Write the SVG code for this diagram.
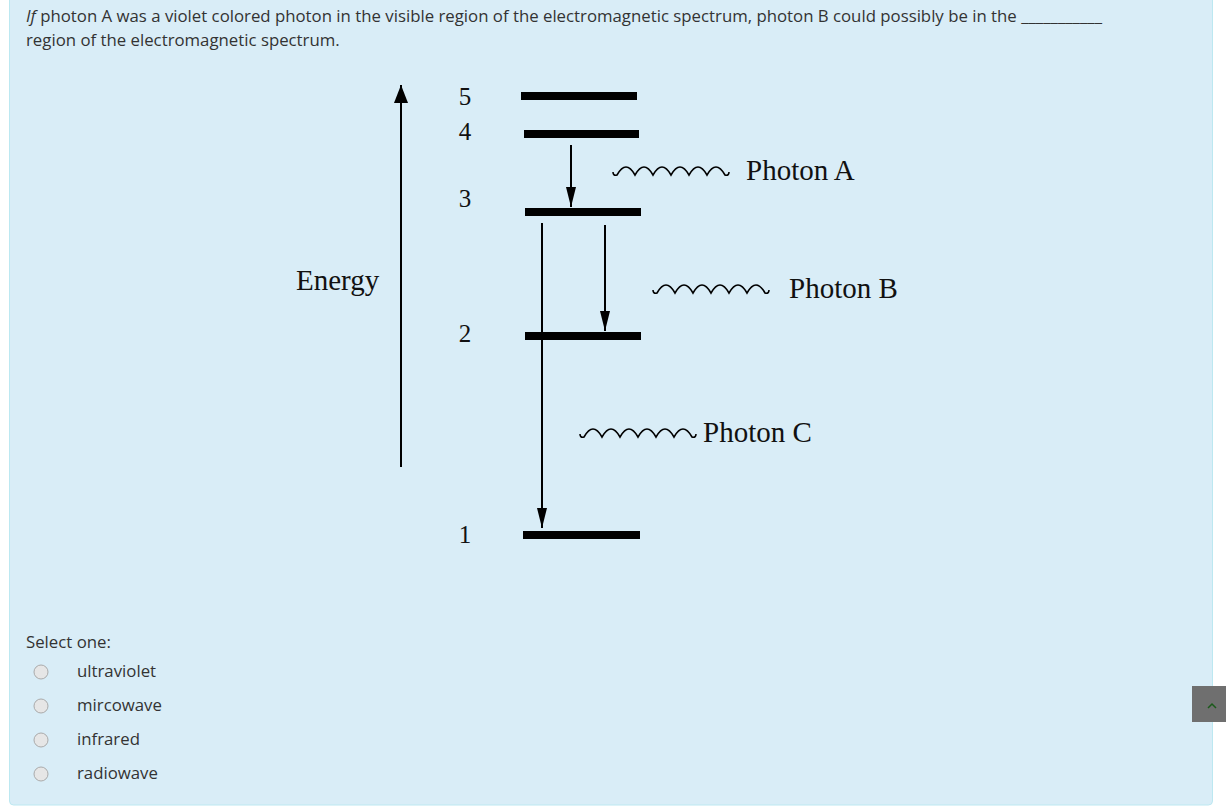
<svg xmlns="http://www.w3.org/2000/svg" width="1226" height="811" viewBox="0 0 1226 811">
<defs>
<style>
.ser{font-family:"Liberation Serif",serif;fill:#111}
.ui{font-family:"Open Sans","Noto Sans",sans-serif;font-size:16.8px;fill:#333}
.lvl{fill:#000}
.ln{stroke:#000;stroke-width:2;fill:none}
.wave{stroke:#000;stroke-width:1.6;fill:none}
.rad{fill:#e6e6e6;stroke:#aaa;stroke-width:1}
</style>
<marker id="ah" viewBox="0 0 20 10" refX="20" refY="5" markerWidth="20" markerHeight="10" markerUnits="userSpaceOnUse" orient="auto" preserveAspectRatio="none"><path d="M0,0 L20,5 L0,10 Z" fill="#000"/></marker>
<marker id="ahl" viewBox="0 0 18 14" refX="18" refY="7" markerWidth="18" markerHeight="14" markerUnits="userSpaceOnUse" orient="auto" preserveAspectRatio="none"><path d="M0,0 L18,7 L0,14 Z" fill="#000"/></marker>
<path id="w" d="M0,-3 q0,4 4,3 q4.5,-8 9,-8 q4.5,0 9,8 q4.5,-8 9,-8 q4.5,0 9,8 q4.5,-8 9,-8 q4.5,0 9,8 q4.5,-8 9,-8 q4.5,0 9,8 q4.5,-8 9,-8 q4.5,0 9,8 q4.5,-8 9,-8 q4.5,0 9,8 q4,1 4,-3"/>
</defs>
<rect width="1226" height="811" fill="#fff"/>
<rect x="9.5" y="-5" width="1203" height="810" rx="4" fill="#d9edf7" stroke="#bce8f1"/>
<g id="question">
<text class="ui" x="26" y="22"><tspan font-style="italic">If</tspan> photon A was a violet colored photon in the visible region of the electromagnetic spectrum, photon B could possibly be in the ___________</text>
<text class="ui" x="26" y="46">region of the electromagnetic spectrum.</text>
</g>
<g id="axis">
<line class="ln" x1="401" y1="467" x2="401" y2="85" marker-end="url(#ahl)"/>
<text class="ser" x="296" y="290" font-size="29">Energy</text>
</g>
<g id="levels">
<rect class="lvl" x="521" y="92" width="116" height="8"/>
<rect class="lvl" x="524" y="130" width="115" height="8"/>
<rect class="lvl" x="525" y="208" width="116" height="8"/>
<rect class="lvl" x="525" y="332" width="116" height="8"/>
<rect class="lvl" x="523" y="531" width="117" height="8"/>
<g class="ser" font-size="25" text-anchor="middle">
<text x="465" y="105">5</text><text x="465" y="140">4</text><text x="465" y="207">3</text><text x="465" y="342">2</text><text x="465" y="543">1</text>
</g>
</g>
<g id="connectors">
<line class="ln" x1="571" y1="145" x2="571" y2="207" marker-end="url(#ah)"/>
<line class="ln" x1="605" y1="225" x2="605" y2="331" marker-end="url(#ah)"/>
<line class="ln" x1="542" y1="223" x2="542" y2="528" marker-end="url(#ah)"/>
</g>
<g id="photons">
<g class="wave"><use href="#w" transform="translate(613,175)"/><use href="#w" transform="translate(653,293)"/><use href="#w" transform="translate(580,437)"/></g>
<g class="ser" font-size="29">
<text x="746" y="180">Photon A</text>
<text x="789" y="298">Photon B</text>
<text x="703" y="442">Photon C</text>
</g>
</g>
<g id="answers">
<text class="ui" x="26" y="648">Select one:</text>
<circle class="rad" cx="41" cy="672" r="7"/><text class="ui" x="77" y="677">ultraviolet</text>
<circle class="rad" cx="41" cy="706" r="7"/><text class="ui" x="77" y="711">mircowave</text>
<circle class="rad" cx="41" cy="740" r="7"/><text class="ui" x="77" y="745">infrared</text>
<circle class="rad" cx="41" cy="774" r="7"/><text class="ui" x="77" y="779">radiowave</text>
</g>
<g id="scrollbtn">
<rect x="1192" y="686" width="34" height="36" fill="#6f6f6f"/>
<path d="M1208,708 l4,-4 l4,4" stroke="#1a5a1a" stroke-width="1.5" fill="none"/>
</g>
</svg>
